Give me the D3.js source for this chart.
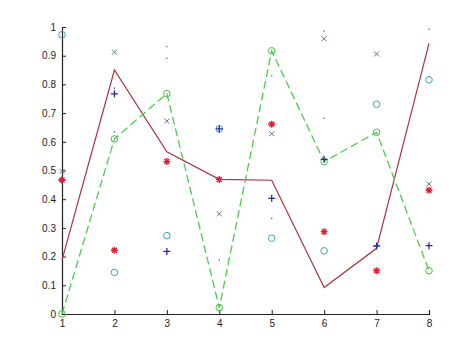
<!DOCTYPE html>
<html>
<head>
<meta charset="utf-8">
<script src="https://cdn.jsdelivr.net/npm/d3@7"></script>
<style>
  body { margin: 0; background: #fff; }
  svg { display: block; font-family: "Liberation Sans", Arial, sans-serif; }
</style>
</head>
<body>
<svg width="474" height="354"></svg>
<script>
var xs = [1, 2, 3, 4, 5, 6, 7, 8];
var yTicks = [0, 0.1, 0.2, 0.3, 0.4, 0.5, 0.6, 0.7, 0.8, 0.9, 1];

// lines
var redLine = [0.188, 0.85, 0.565, 0.469, 0.466, 0.092, 0.229, 0.943];
var greenLine = [0.0, 0.61, 0.768, 0.022, 0.917, 0.531, 0.633, 0.151];

// marker-only series
var cyanCircles = [0.973, 0.145, 0.273, 0.645, 0.264, 0.22, 0.731, 0.816];
var bluePlus = [0.467, 0.767, 0.218, 0.645, 0.403, 0.539, 0.237, 0.238];
var redStars = [0.467, 0.222, 0.531, 0.469, 0.661, 0.287, 0.151, 0.431];
var grayX = [0.497, 0.912, 0.672, 0.349, 0.628, 0.959, 0.906, 0.453];
var dotsA = [[2, 0.787], [3, 0.932], [4, 0.188], [5, 0.83], [6, 0.986], [8, 0.992]];
var dotsB = [[2, 0.635], [3, 0.891], [5, 0.333], [6, 0.682]];

var svg = d3.select("svg");
var x = d3.scaleLinear().domain([1, 8]).range([62, 429]);
var y = d3.scaleLinear().domain([0, 1]).range([314, 27]);

// axes (MATLAB style, ticks inside)
var xAxis = d3.axisBottom(x).tickValues(xs).tickSize(-4).tickPadding(6).tickFormat(d3.format("d"));
var yAxis = d3.axisLeft(y).tickValues(yTicks).tickSize(-4).tickPadding(6).tickFormat(function(d) { return d === 0 || d === 1 ? d : d3.format(".1f")(d); });

var gx = svg.append("g").attr("transform", "translate(0,314)").call(xAxis);
var gy = svg.append("g").attr("transform", "translate(62,0)").call(yAxis);
[gx, gy].forEach(function(g) {
  g.select(".domain").attr("stroke", "#222").attr("stroke-width", 1.2);
  g.selectAll(".tick line").attr("stroke", "#222");
  g.selectAll(".tick text").attr("fill", "#222").style("font-size", "10px");
});

var line = d3.line().x(function(d, i) { return x(xs[i]); }).y(function(d) { return y(d); });

svg.append("path").datum(redLine)
  .attr("d", line).attr("fill", "none").attr("stroke", "#a8343f").attr("stroke-width", 1.2);

svg.append("path").datum(greenLine)
  .attr("d", line).attr("fill", "none").attr("stroke", "#4ccc4c").attr("stroke-width", 1.3)
  .attr("stroke-dasharray", "8,4");

svg.append("g").selectAll("circle").data(greenLine).enter().append("circle")
  .attr("cx", function(d, i) { return x(xs[i]); }).attr("cy", function(d) { return y(d); })
  .attr("r", 3.3).attr("fill", "none").attr("stroke", "#44c044").attr("stroke-width", 1);

// cyan circles
svg.append("g").selectAll("circle").data(cyanCircles).enter().append("circle")
  .attr("cx", function(d, i) { return x(xs[i]); }).attr("cy", function(d) { return y(d); })
  .attr("r", 3.3).attr("fill", "none").attr("stroke", "#3aa0c0").attr("stroke-width", 1);

// gray x marks
svg.append("g").selectAll("path").data(grayX).enter().append("path")
  .attr("transform", function(d, i) { return "translate(" + x(xs[i]) + "," + y(d) + ")"; })
  .attr("d", "M-2.5,-2.5L2.5,2.5M-2.5,2.5L2.5,-2.5")
  .attr("stroke", "#5a7a72").attr("stroke-width", 1).attr("fill", "none");

// blue plus
svg.append("g").selectAll("path").data(bluePlus).enter().append("path")
  .attr("transform", function(d, i) { return "translate(" + x(xs[i]) + "," + y(d) + ")"; })
  .attr("d", "M-3.5,0L3.5,0M0,-3.5L0,3.5")
  .attr("stroke", "#2a2a9a").attr("stroke-width", 1.3).attr("fill", "none");

// red stars (drawn over the plus marks)
svg.append("g").selectAll("path").data(redStars).enter().append("path")
  .attr("transform", function(d, i) { return "translate(" + x(xs[i]) + "," + y(d) + ")"; })
  .attr("d", "M-3.5,0L3.5,0M0,-3.5L0,3.5M-2.5,-2.5L2.5,2.5M-2.5,2.5L2.5,-2.5")
  .attr("stroke", "#dd2233").attr("stroke-width", 1.4).attr("fill", "none");

// small dots
svg.append("g").selectAll("circle").data(dotsA.concat(dotsB)).enter().append("circle")
  .attr("cx", function(d) { return x(d[0]); }).attr("cy", function(d) { return y(d[1]); })
  .attr("r", 0.8).attr("fill", "#666");
</script>
</body>
</html>
